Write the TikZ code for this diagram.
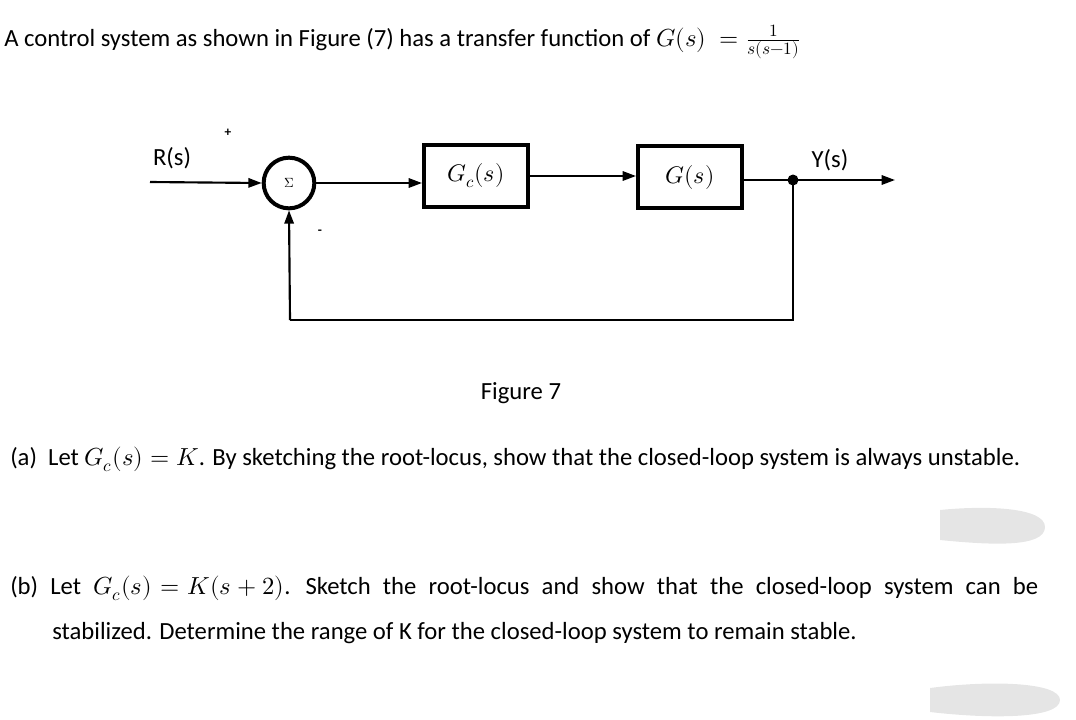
\documentclass[tikz,border=0pt]{standalone}
\usepackage{fontspec}
\setmainfont{Carlito}
\usepackage{unicode-math}
\setmathfont{Latin Modern Math}
\usetikzlibrary{arrows.meta}
\begin{document}
\begin{tikzpicture}[x=0.75pt,y=-0.75pt,
  txt/.style={inner sep=0pt,anchor=west,font=\fontsize{18.5pt}{22pt}\selectfont},
  blk/.style={draw,line width=3pt,minimum width=78pt,minimum height=46pt,inner sep=0pt,font=\fontsize{18pt}{20pt}\selectfont},
  sig/.style={line width=1.6pt,-{Triangle[length=10pt,width=7pt]}},
  ln/.style={line width=1.6pt}]
\useasboundingbox (0,0) rectangle (1076,719);
\node[txt] (t1) at (4,42) {A control system as shown in Figure (7) has a transfer function of $G(s)\;=\frac{1}{s(s-1)}$};
\node[draw,circle,line width=3pt,minimum size=38pt,inner sep=0pt,font=\normalsize] (sum) at (289,183) {$\Sigma$};
\coordinate (in) at (150,182);
\node[blk] (gc) at (476,176) {$G_c(s)$};
\node[blk] (g) at (690,177) {$G(s)$};
\coordinate (tap) at (793,180);
\coordinate (out) at (895,180);
\coordinate (b1) at (793,320);
\coordinate (b2) at (290,320);
\fill (tap) circle (5.5);
\draw[sig] (in) -- (sum.west);
\draw[sig] (sum.east) -- (sum.east -| gc.west);
\draw[sig] (gc.east) -- (gc.east -| g.west);
\draw[sig] (g.east|-tap) -- (out);
\draw[ln] (tap) -- (b1) -- (b2);
\draw[sig] (b2) -- (sum.south);
\node[txt,anchor=center] (r) at (172,158) {R(s)};
\node[txt,anchor=center] (y) at (830,160) {Y(s)};
\node[anchor=center,font=\bfseries] (p) at (228,133) {+};
\node[anchor=center,font=\bfseries] (m) at (320,232) {-};
\node[txt,anchor=center] (f7) at (521,393) {Figure 7};
\node[txt] (a) at (10,459) {(a)\ \ Let $G_c(s)=K$. By sketching the root-locus, show that the closed-loop system is always unstable.};
\node[txt] (b) at (10,588) {\makebox[771pt][s]{(b)\ \ Let \ $G_c(s)=K(s+2)$. \ Sketch \ the \ root-locus \ and \ show \ that \ the \ closed-loop \ system \ can \ be}};
\node[txt] (b2t) at (52,633) {stabilized. Determine the range of K for the closed-loop system to remain stable.};
\fill[gray!20] (940,510) .. controls (990,505) and (1045,508) .. (1045,527) .. controls (1045,548) and (990,545) .. (940,540) -- cycle;
\fill[gray!20] (930,688) .. controls (990,680) and (1060,682) .. (1060,700) .. controls (1060,719) and (990,719) .. (930,712) -- cycle;
\end{tikzpicture}
\end{document}
